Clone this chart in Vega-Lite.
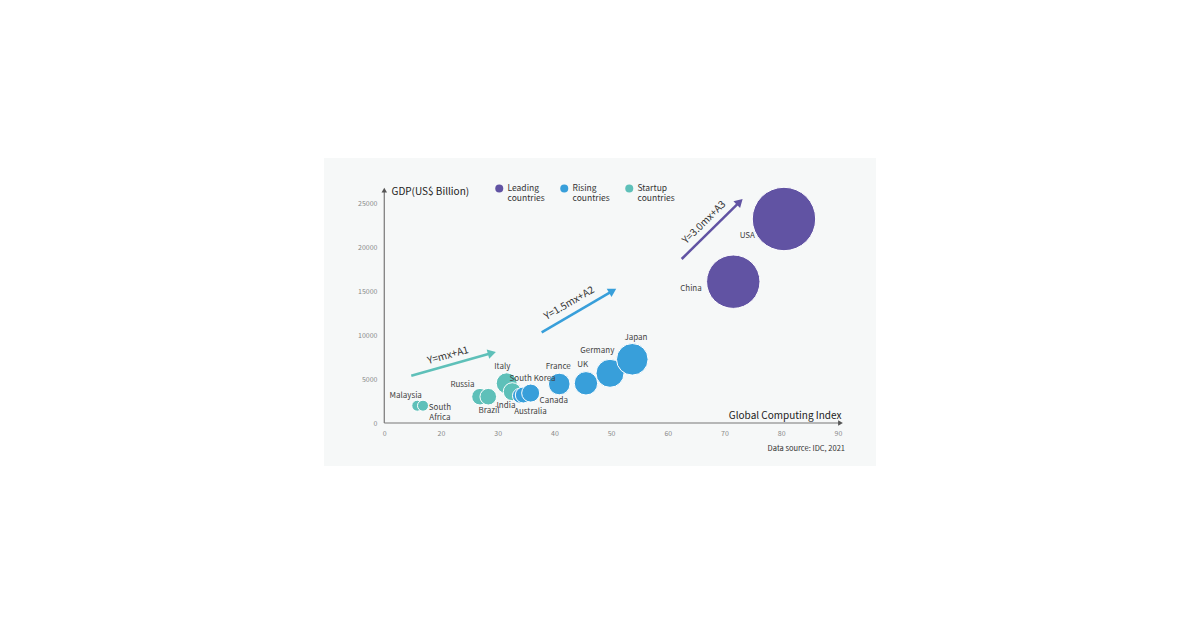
{
  "$schema": "https://vega.github.io/schema/vega-lite/v6.json",
  "autosize": "none",
  "width": 552,
  "height": 308,
  "padding": {"left": 324, "top": 158, "right": 324, "bottom": 161},
  "background": "white",
  "config": {
    "font": "Noto Sans CJK SC",
    "view": {"fill": "#f6f8f8", "stroke": null},
    "style": {"guide-label": {"lineHeight": 10}}
  },
  "title": {
    "text": "Data source: IDC, 2021",
    "orient": "bottom",
    "anchor": "end",
    "frame": "group",
    "offset": -21,
    "dx": -31,
    "fontSize": 7.5,
    "fontWeight": "normal",
    "color": "#333"
  },
  "datasets": {
    "countries": [
      {"country": "Malaysia", "label": "Malaysia", "group": "Startup countries", "gci": 15.82, "gdp": 1966, "bubble": 11, "lx": 13.77, "ly": 3034},
      {"country": "South Africa", "label": "South\nAfrica", "group": "Startup countries", "gci": 16.83, "gdp": 1966, "bubble": 11, "lx": 19.82, "ly": 1761},
      {"country": "Russia", "label": "Russia", "group": "Startup countries", "gci": 26.88, "gdp": 2989, "bubble": 16.6, "lx": 23.79, "ly": 4352},
      {"country": "Brazil", "label": "Brazil", "group": "Startup countries", "gci": 28.34, "gdp": 2989, "bubble": 16.6, "lx": 28.47, "ly": 1398},
      {"country": "Italy", "label": "Italy", "group": "Startup countries", "gci": 31.59, "gdp": 4511, "bubble": 21, "lx": 30.81, "ly": 6364},
      {"country": "India", "label": "India", "group": "Startup countries", "gci": 32.57, "gdp": 3557, "bubble": 18, "lx": 31.46, "ly": 1966},
      {"country": "Australia", "label": "Australia", "group": "Rising countries", "gci": 33.93, "gdp": 3102, "bubble": 15, "lx": 35.78, "ly": 1250},
      {"country": "South Korea", "label": "South Korea", "group": "Rising countries", "gci": 34.52, "gdp": 3182, "bubble": 16, "lx": 36.14, "ly": 5000},
      {"country": "Canada", "label": "Canada", "group": "Rising countries", "gci": 35.82, "gdp": 3400, "bubble": 18, "lx": 39.89, "ly": 2466},
      {"country": "France", "label": "France", "group": "Rising countries", "gci": 40.86, "gdp": 4432, "bubble": 21.6, "lx": 40.69, "ly": 6398},
      {"country": "UK", "label": "UK", "group": "Rising countries", "gci": 45.57, "gdp": 4511, "bubble": 23.4, "lx": 44.99, "ly": 6591},
      {"country": "Germany", "label": "Germany", "group": "Rising countries", "gci": 49.81, "gdp": 5648, "bubble": 28, "lx": 47.57, "ly": 8216},
      {"country": "Japan", "label": "Japan", "group": "Rising countries", "gci": 53.74, "gdp": 7239, "bubble": 31.6, "lx": 54.39, "ly": 9693},
      {"country": "China", "label": "China", "group": "Leading countries", "gci": 71.55, "gdp": 16057, "bubble": 53.4, "lx": 64.09, "ly": 15193},
      {"country": "USA", "label": "USA", "group": "Leading countries", "gci": 80.49, "gdp": 23182, "bubble": 63.4, "lx": 74.02, "ly": 21250}
    ],
    "trends": [
      {"group": "Startup countries", "equation": "Y=mx+A1", "multiplier": 1, "x1": 14.76, "y1": 5375, "x2": 28.98, "y2": 7949, "tx": 21.23, "ty": 7670},
      {"group": "Rising countries", "equation": "Y=1.5mx+A2", "multiplier": 1.5, "x1": 37.76, "y1": 10307, "x2": 50.28, "y2": 15023, "tx": 42.61, "ty": 13602},
      {"group": "Leading countries", "equation": "Y=3.0mx+A3", "multiplier": 3, "x1": 62.45, "y1": 18636, "x2": 72.68, "y2": 25136, "tx": 66.42, "ty": 22784}
    ],
    "axes": [
      {"axis": "x", "x1": 10, "y1": 0, "x2": 90.46, "y2": 0},
      {"axis": "y", "x1": 10, "y1": 0, "x2": 10, "y2": 26477}
    ]
  },
  "layer": [
    {
      "data": {"name": "countries"},
      "mark": {"type": "point", "shape": "circle", "filled": true, "opacity": 1, "stroke": "white", "strokeWidth": 1},
      "encoding": {
        "x": {
          "field": "gci", "type": "quantitative",
          "scale": {"domain": [-0.63, 96.72], "nice": false, "zero": false},
          "axis": {
            "values": [10, 20, 30, 40, 50, 60, 70, 80, 90],
            "labelExpr": "datum.value == 10 ? '0' : datum.label",
            "offset": -43, "domain": false, "ticks": false, "grid": false,
            "labelFontSize": 7, "labelColor": "#888", "labelPadding": 6,
            "labelFlush": false, "labelOverlap": false,
            "title": "Global Computing Index",
            "titleX": 517, "titleY": -8, "titleAlign": "right", "titleBaseline": "middle",
            "titleFontSize": 10, "titleFontWeight": "normal", "titleColor": "#222"
          }
        },
        "y": {
          "field": "gdp", "type": "quantitative",
          "scale": {"domain": [-4886, 30114], "nice": false, "zero": false},
          "axis": {
            "values": [0, 5000, 10000, 15000, 20000, 25000],
            "format": "d",
            "offset": -60, "domain": false, "ticks": false, "grid": false,
            "labelFontSize": 7, "labelColor": "#888", "labelPadding": 7,
            "labelFlush": false, "labelOverlap": false,
            "title": "GDP(US$ Billion)",
            "titleAngle": 0, "titleX": 7, "titleY": 33, "titleAlign": "left", "titleBaseline": "middle",
            "titleFontSize": 10, "titleFontWeight": "normal", "titleColor": "#222"
          }
        },
        "size": {"field": "bubble", "type": "quantitative", "scale": {"type": "pow", "exponent": 2, "domain": [0, 64], "range": [0, 4096]}, "legend": null},
        "color": {
          "field": "group", "type": "nominal",
          "scale": {"domain": ["Leading countries", "Rising countries", "Startup countries"], "range": ["#6153a3", "#389fda", "#5ec0b9"]},
          "legend": {
            "orient": "none", "legendX": 171, "legendY": 26, "direction": "horizontal", "title": null,
            "symbolType": "circle", "symbolSize": 64, "symbolStrokeWidth": 0, "symbolOpacity": 1,
            "labelFontSize": 8.5, "labelColor": "#333", "labelOffset": 4, "labelBaseline": "middle",
            "labelExpr": "split(datum.label, ' ')",
            "columnPadding": 15
          }
        }
      }
    },
    {
      "data": {"name": "axes"},
      "mark": {"type": "rule", "color": "#777", "strokeWidth": 1.2},
      "encoding": {
        "x": {"field": "x1", "type": "quantitative", "scale": {"domain": [-0.63, 96.72], "nice": false, "zero": false}},
        "y": {"field": "y1", "type": "quantitative", "scale": {"domain": [-4886, 30114], "nice": false, "zero": false}},
        "x2": {"field": "x2"},
        "y2": {"field": "y2"}
      }
    },
    {
      "data": {"name": "axes"},
      "mark": {"type": "point", "filled": true, "color": "#555", "opacity": 1, "size": 30},
      "encoding": {
        "x": {"field": "x2", "type": "quantitative", "scale": {"domain": [-0.63, 96.72], "nice": false, "zero": false}},
        "y": {"field": "y2", "type": "quantitative", "scale": {"domain": [-4886, 30114], "nice": false, "zero": false}},
        "shape": {"field": "axis", "type": "nominal", "scale": {"domain": ["x", "y"], "range": ["triangle-right", "triangle-up"]}, "legend": null}
      }
    },
    {
      "data": {"name": "countries"},
      "mark": {"type": "text", "fontSize": 8, "color": "#444", "align": "center", "baseline": "middle", "lineBreak": "\n"},
      "encoding": {
        "x": {"field": "lx", "type": "quantitative", "scale": {"domain": [-0.63, 96.72], "nice": false, "zero": false}},
        "y": {"field": "ly", "type": "quantitative", "scale": {"domain": [-4886, 30114], "nice": false, "zero": false}},
        "text": {"field": "label"}
      }
    },
    {
      "data": {"name": "trends"},
      "mark": {"type": "rule", "strokeWidth": 2.5},
      "encoding": {
        "x": {"field": "x1", "type": "quantitative", "scale": {"domain": [-0.63, 96.72], "nice": false, "zero": false}},
        "y": {"field": "y1", "type": "quantitative", "scale": {"domain": [-4886, 30114], "nice": false, "zero": false}},
        "x2": {"field": "x2"},
        "y2": {"field": "y2"},
        "color": {"field": "group", "type": "nominal"}
      }
    },
    {
      "data": {"name": "trends"},
      "mark": {"type": "point", "shape": "triangle-right", "filled": true, "opacity": 1, "size": 90},
      "encoding": {
        "x": {"field": "x2", "type": "quantitative", "scale": {"domain": [-0.63, 96.72], "nice": false, "zero": false}},
        "y": {"field": "y2", "type": "quantitative", "scale": {"domain": [-4886, 30114], "nice": false, "zero": false}},
        "color": {"field": "group", "type": "nominal"},
        "angle": {"field": "multiplier", "type": "quantitative", "scale": {"domain": [1, 1.5, 3], "range": [344.3, 329.7, 315.4]}}
      }
    },
    {
      "data": {"name": "trends"},
      "mark": {"type": "text", "fontSize": 10, "color": "#333", "align": "center", "baseline": "middle"},
      "encoding": {
        "x": {"field": "tx", "type": "quantitative", "scale": {"domain": [-0.63, 96.72], "nice": false, "zero": false}},
        "y": {"field": "ty", "type": "quantitative", "scale": {"domain": [-4886, 30114], "nice": false, "zero": false}},
        "text": {"field": "equation"},
        "angle": {"field": "multiplier", "type": "quantitative", "scale": {"domain": [1, 1.5, 3], "range": [344.3, 329.7, 315.4]}}
      }
    }
  ]
}
